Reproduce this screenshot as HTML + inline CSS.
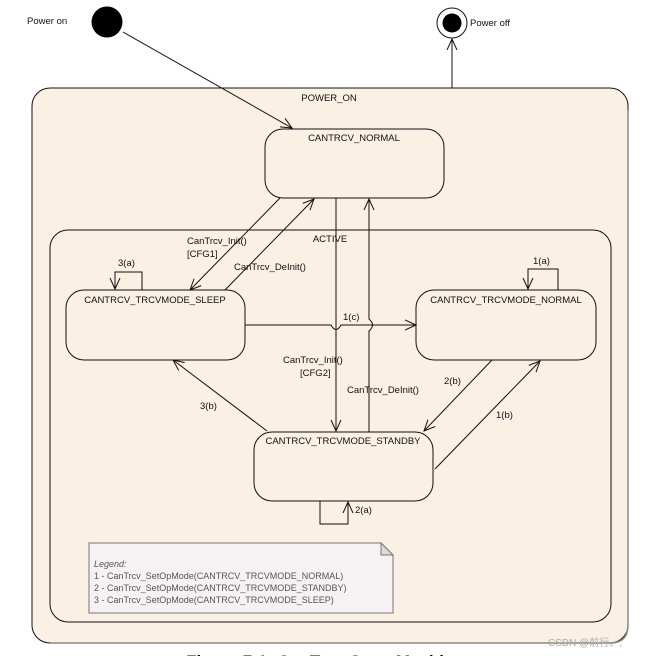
<!DOCTYPE html>
<html><head><meta charset="utf-8"><style>
html,body{margin:0;padding:0;background:#fff;width:651px;height:656px;overflow:hidden}
svg{display:block}
text{font-family:"Liberation Sans",Arial,sans-serif;font-size:9.5px;fill:#111}
</style></head><body>
<svg width="651" height="656" viewBox="0 0 651 656" xmlns="http://www.w3.org/2000/svg">
<defs>
<marker id="a" markerWidth="12" markerHeight="12" refX="11" refY="6" orient="auto" markerUnits="userSpaceOnUse">
<path d="M0,1 L11,6 L0,11" fill="none" stroke="#111" stroke-width="1"/>
</marker>
</defs>
<!-- POWER_ON -->
<rect x="32" y="88" width="596" height="555" rx="18" fill="#faf0e3" stroke="#111" stroke-width="1"/>
<path d="M628,110 L628,625 Q628,643 610,643 L50,643" fill="none" stroke="#888" stroke-width="1.5"/>
<text x="329" y="101" text-anchor="middle">POWER_ON</text>
<!-- ACTIVE -->
<rect x="50" y="230" width="561" height="392" rx="18" fill="#faf0e3" stroke="#111" stroke-width="1"/>
<text x="330" y="242" text-anchor="middle">ACTIVE</text>
<!-- initial / final -->
<circle cx="107" cy="22" r="15.5" fill="#000"/>
<text x="27" y="24">Power on</text>
<circle cx="452" cy="23" r="15" fill="#fff" stroke="#111"/>
<circle cx="452" cy="23" r="9.5" fill="#000"/>
<text x="470" y="26">Power off</text>
<line x1="452" y1="88" x2="452" y2="39" stroke="#111" marker-end="url(#a)"/>
<line x1="123" y1="32" x2="292" y2="128" stroke="#111" marker-end="url(#a)"/>
<!-- states -->
<rect x="265" y="129" width="179" height="69" rx="18" fill="#faf0e3" stroke="#111"/>
<text x="354" y="141" text-anchor="middle">CANTRCV_NORMAL</text>
<rect x="66" y="290" width="179" height="70" rx="18" fill="#faf0e3" stroke="#111"/>
<text x="155" y="303" text-anchor="middle">CANTRCV_TRCVMODE_SLEEP</text>
<rect x="416" y="290" width="180" height="70" rx="18" fill="#faf0e3" stroke="#111"/>
<text x="506" y="303" text-anchor="middle">CANTRCV_TRCVMODE_NORMAL</text>
<rect x="254" y="432" width="179" height="69" rx="18" fill="#faf0e3" stroke="#111"/>
<text x="343" y="444" text-anchor="middle">CANTRCV_TRCVMODE_STANDBY</text>
<!-- transitions -->
<line x1="280" y1="198" x2="190" y2="290" stroke="#111" marker-end="url(#a)"/>
<text x="187" y="244">CanTrcv_Init()</text>
<text x="187" y="257">[CFG1]</text>
<line x1="225" y1="290" x2="314" y2="199" stroke="#111" marker-end="url(#a)"/>
<text x="234" y="270">CanTrcv_DeInit()</text>
<path d="M142,290 L142,272 L115,272 L115,289" fill="none" stroke="#111" marker-end="url(#a)"/>
<text x="118" y="266">3(a)</text>
<path d="M558,290 L558,269 L528,269 L528,289" fill="none" stroke="#111" marker-end="url(#a)"/>
<text x="533" y="264">1(a)</text>
<path d="M245,325 L331,325 Q336,334 341,325 L416,325" fill="none" stroke="#111" marker-end="url(#a)"/>
<text x="343" y="320">1(c)</text>
<line x1="336" y1="198" x2="336" y2="431" stroke="#111" marker-end="url(#a)"/>
<text x="283" y="363">CanTrcv_Init()</text>
<text x="300" y="376">[CFG2]</text>
<path d="M369,432 L369,331 Q376,325 369,319 L369,199" fill="none" stroke="#111" marker-end="url(#a)"/>
<text x="347" y="393">CanTrcv_DeInit()</text>
<line x1="267" y1="431" x2="173" y2="360" stroke="#111" marker-end="url(#a)"/>
<text x="200" y="409">3(b)</text>
<line x1="492" y1="360" x2="424" y2="431" stroke="#111" marker-end="url(#a)"/>
<text x="444" y="384">2(b)</text>
<line x1="435" y1="469" x2="540" y2="361" stroke="#111" marker-end="url(#a)"/>
<text x="496" y="418">1(b)</text>
<path d="M320,501 L320,524 L348,524 L348,502" fill="none" stroke="#111" marker-end="url(#a)"/>
<text x="355" y="513">2(a)</text>
<!-- legend -->
<path d="M89,543 L381,543 L393,555 L393,613 L89,613 Z" fill="#f6f2f3" stroke="#777"/>
<path d="M381,543 L381,555 L393,555 Z" fill="#ddd" stroke="#777"/>
<g style="font-size:9px">
<text x="94" y="567" style="font-style:italic;fill:#555;font-size:9px">Legend:</text>
<text x="94" y="579" style="fill:#555;font-size:9px">1 - CanTrcv_SetOpMode(CANTRCV_TRCVMODE_NORMAL)</text>
<text x="94" y="591" style="fill:#555;font-size:9px">2 - CanTrcv_SetOpMode(CANTRCV_TRCVMODE_STANDBY)</text>
<text x="94" y="603" style="fill:#555;font-size:9px">3 - CanTrcv_SetOpMode(CANTRCV_TRCVMODE_SLEEP)</text>
</g>
<text x="548" y="646" style="fill:#aaa;font-size:10px;font-family:'Liberation Sans','Noto Sans CJK SC',sans-serif">CSDN @前行。,</text>
<text x="325" y="667" text-anchor="middle" style="font-weight:bold;font-size:17px;fill:#000">Figure 7-1: CanTrcv State Machine</text>
</svg>
</body></html>
